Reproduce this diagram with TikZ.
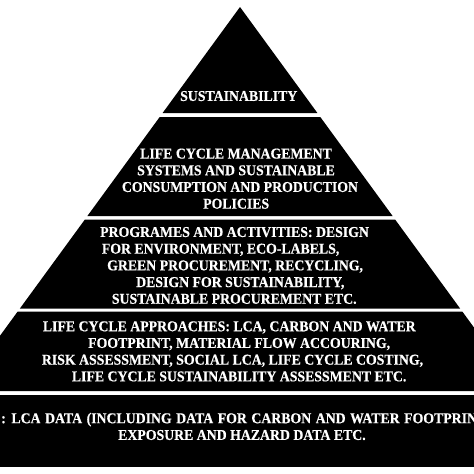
\documentclass[tikz,border=0pt]{standalone}
\usepackage{fontspec}
\setmainfont{Liberation Serif}
\newfontfamily\tierfont[FakeStretch=0.92,FakeBold=0.4]{Liberation Serif Bold}
\usepackage{tikz}

\tikzset{
  tier/.style={fill=black},
  tiertext/.style={text=white, font=\tierfont\fontsize{15}{16.7}\selectfont,
    align=left, anchor=north west, inner sep=0pt}
}

\begin{document}
\begin{tikzpicture}[x=1pt,y=-1pt]
\useasboundingbox (0,0) rectangle (474,474);
\fill[white] (0,0) rectangle (474,474);
\clip (0,0) rectangle (474,474);
\fill[tier] (240,7) -- (317.4,113) -- (162.6,113) -- cycle ; % Tier.1
\fill[tier] (159.7,117) -- (320.3,117) -- (392.6,216) -- (87.4,216) -- cycle ; % Tier.2
\fill[tier] (84.9,219.5) -- (395.1,219.5) -- (460.1,308.5) -- (19.9,308.5) -- cycle ; % Tier.3
\fill[tier] (17.7,311.5) -- (462.3,311.5) -- (520.3,391) -- (-40.3,391) -- cycle ; % Tier.4
\fill[tier] (-10,394.5) rectangle (484,467) ; % Tier.5
\node[tiertext] (sust) at (180,90.8) {SUSTAINABILITY}; % Tier.1
\node[tiertext] (mgmt) at (121.7,148.4) {\hspace*{18.3pt}LIFE CYCLE MANAGEMENT\\
  \hspace*{15.3pt}SYSTEMS AND SUSTAINABLE\\
  CONSUMPTION AND PRODUCTION\\
  \hspace*{81.3pt}POLICIES}; % Tier.2
\node[tiertext] (prog) at (100,226.8) {PROGRAMES AND ACTIVITIES: DESIGN\\
  \hspace*{1.7pt}FOR ENVIRONMENT, ECO-LABELS,\\
  \hspace*{7pt}GREEN PROCUREMENT, RECYCLING,\\
  \hspace*{36pt}DESIGN FOR SUSTAINABILITY,\\
  \hspace*{11.7pt}SUSTAINABLE PROCUREMENT ETC.}; % Tier.3
\node[tiertext] (appr) at (41.7,321.1) {\hspace*{1pt}LIFE CYCLE APPROACHES: LCA, CARBON AND WATER\\
  \hspace*{46.3pt}FOOTPRINT, MATERIAL FLOW ACCOURING,\\
  RISK ASSESSMENT, SOCIAL LCA, LIFE CYCLE COSTING,\\
  \hspace*{30pt}LIFE CYCLE SUSTAINABILITY ASSESSMENT ETC.}; % Tier.4
\node[tiertext] (data) at (1,412.6) {{\spaceskip=4.5pt\relax : LCA DATA (INCLUDING DATA FOR CARBON AND WATER FOOTPRIN}\\
  \hspace*{117pt}EXPOSURE AND HAZARD DATA ETC.}; % Tier.5
\end{tikzpicture}
\end{document}
